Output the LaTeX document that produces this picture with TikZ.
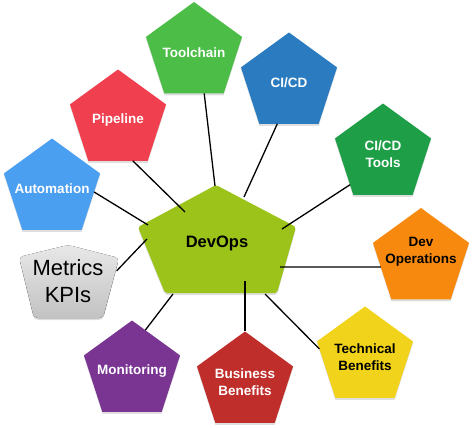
\documentclass[tikz,border=0pt]{standalone}
\usepackage{fontspec}
\setmainfont{Liberation Sans}
\usetikzlibrary{shapes.geometric,shadows}

\definecolor{devgreen}{HTML}{9BC31A}
\definecolor{toolgreen}{HTML}{4CBE48}
\definecolor{cicdblue}{HTML}{2A7BC0}
\definecolor{toolsgreen}{HTML}{1F9E48}
\definecolor{pipered}{HTML}{F0404F}
\definecolor{autoblue}{HTML}{4B9FF0}
\definecolor{devorange}{HTML}{F7890F}
\definecolor{techyellow}{HTML}{F1D31B}
\definecolor{busred}{HTML}{BF2E2A}
\definecolor{monpurple}{HTML}{7A3593}
\definecolor{metrictop}{HTML}{E8E8E8}
\definecolor{metricbot}{HTML}{C2C2C2}

\begin{document}
\begin{tikzpicture}[x=1pt, y=-1pt,
    pent/.style={regular polygon, regular polygon sides=5, minimum size=101pt,
        inner sep=0pt, outer sep=0pt,
        drop shadow={opacity=0.25, shadow xshift=0pt, shadow yshift=-2pt}},
    lbl/.style={text=white, align=center, inner sep=0pt,
        font=\bfseries\fontsize{13.5}{17}\selectfont},
    link/.style={line width=1.3pt, black}]
    \useasboundingbox (0,0) rectangle (474,428);

    \node[pent, fill=toolgreen, label={[lbl]center:Toolchain}] (toolchain) at (194,52.5) {};
    \node[pent, fill=cicdblue, label={[lbl]center:CI/CD}] (cicd) at (289,83) {};
    \node[pent, fill=toolsgreen, label={[lbl]center:{CI/CD\\Tools}}] (cicdtools) at (383,154) {};
    \node[pent, fill=pipered, label={[lbl]center:Pipeline}] (pipeline) at (118,120) {};
    \node[pent, fill=autoblue, label={[lbl]center:Automation}] (automation) at (52,189) {};
    \node[pent, fill=devorange, label={[lbl, text=black, yshift=7pt]center:{Dev\\Operations}}] (devop) at (421,258.5) {};
    \node[pent, fill=techyellow, label={[lbl, text=black]center:{Technical\\Benefits}}] (technical) at (365,357) {};
    \node[pent, fill=busred, label={[lbl]center:{Business\\Benefits}}] (business) at (245,382) {};
    \node[pent, fill=monpurple, label={[lbl]center:Monitoring}] (monitoring) at (132,371) {};

    \fill[top color=metrictop, bottom color=metricbot, rounded corners=4pt,
        drop shadow={opacity=0.25, shadow xshift=0pt, shadow yshift=-2pt}]
        (68,245) -- (119,258) -- (103,318) -- (34,318) -- (19,257) -- cycle;
    \node[align=center, font=\fontsize{22}{27}\selectfont] (metrics) at (68,281) {Metrics\\KPIs};

    \fill[devgreen, rounded corners=2pt,
        drop shadow={opacity=0.25, shadow xshift=0pt, shadow yshift=-2pt}]
        (216,185) -- (296,227) -- (277,293) -- (165,293) -- (138,227) -- cycle;
    \node[font=\bfseries\fontsize{16.5}{20}\selectfont] (devops) at (217,243) {DevOps};

    \coordinate (dv-tool) at (215,186);
    \coordinate (dv-cicd) at (244,197);
    \coordinate (dv-tools) at (282,229);
    \coordinate (dv-pipe) at (185,212);
    \coordinate (dv-auto) at (148,225);
    \coordinate (dv-met) at (147,239);
    \coordinate (dv-dop) at (280,267);
    \coordinate (dv-tech) at (265,294);
    \coordinate (dv-bus) at (245,281);
    \coordinate (dv-mon) at (173,294);

    \draw[link] (toolchain.-76) -- (dv-tool);
    \draw[link] (cicd.254) -- (dv-cicd);
    \draw[link] (cicdtools.223) -- (dv-tools);
    \draw[link] (pipeline.-70) -- (dv-pipe);
    \draw[link] (automation.-4) -- (dv-auto);
    \draw[link, shorten <=14pt] (metrics.east) -- (dv-met);
    \draw[link] (devop.192) -- (dv-dop);
    \draw[link] (technical.170) -- (dv-tech);
    \draw[link] (business.north) -- (dv-bus);
    \draw[link] (monitoring.72) -- (dv-mon);
\end{tikzpicture}
\end{document}
